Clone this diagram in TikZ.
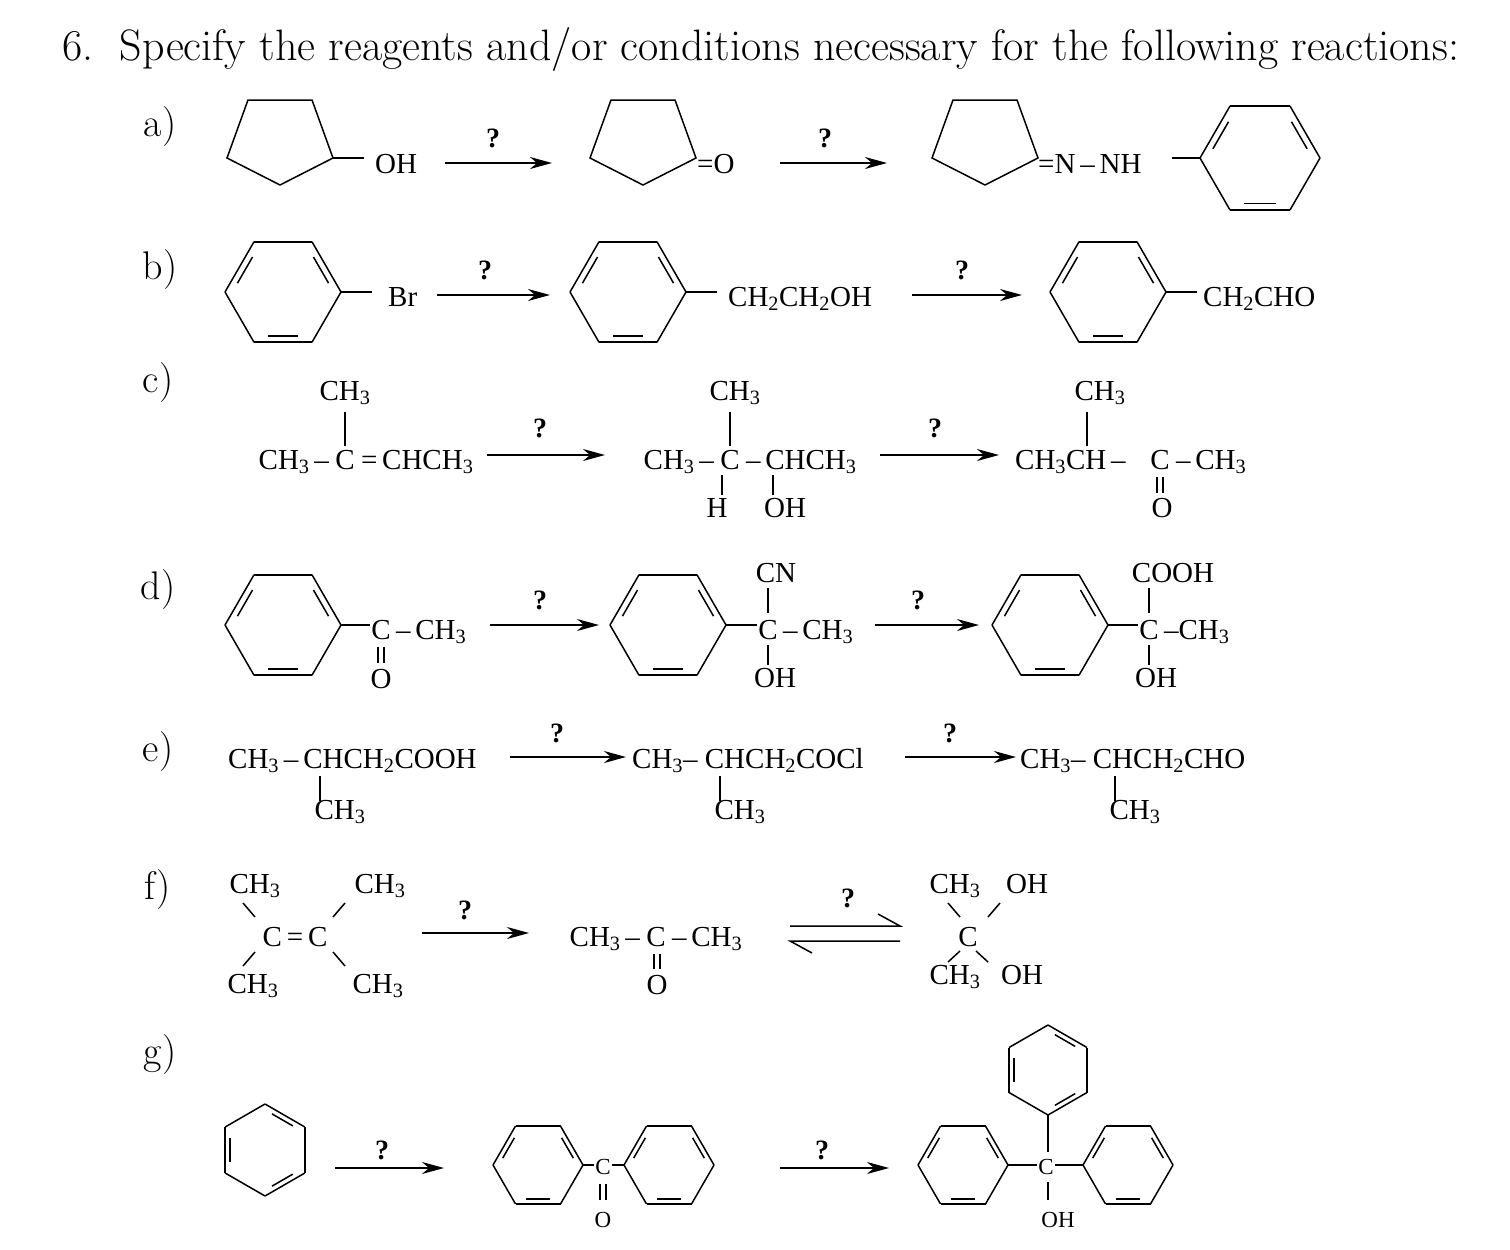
\documentclass[tikz,border=0pt]{standalone}
\usepackage{fontspec}
\usetikzlibrary{arrows.meta}
\newfontfamily\chemf{Liberation Serif}
\newcommand\subt[1]{\textsubscript{#1}}
\newcommand\dsh{\,–\,}
\tikzset{
 bond/.style={line width=1.5pt},
 rx/.style={line width=1.7pt,-{Stealth[length=22pt,width=12pt,inset=7pt]}},
 ch/.style={font=\chemf\fontsize{29}{31}\selectfont,inner sep=0pt,anchor=base},
 chw/.style={ch,anchor=base west},
 che/.style={ch,anchor=base east},
 qm/.style={font=\chemf\bfseries\fontsize{28}{30}\selectfont,inner sep=0pt},
 lab/.style={font=\fontsize{40}{42}\selectfont,inner sep=0pt},
}
% cx cy r rotation doubles
\newcommand\hexring[5]{%
 \foreach \i in {0,...,5}{\draw[bond] ({#1+#3*cos(60*\i+#4)},{#2+#3*sin(60*\i+#4)}) -- ({#1+#3*cos(60*\i+60+#4)},{#2+#3*sin(60*\i+60+#4)});}
 \foreach \i in {#5}{\draw[bond] ({#1+0.8*#3*cos(60*\i+#4+11)},{#2+0.8*#3*sin(60*\i+#4+11)}) -- ({#1+0.8*#3*cos(60*\i+49+#4)},{#2+0.8*#3*sin(60*\i+49+#4)});}
}
\newcommand\pent[2]{% offset x, y
 \draw[bond] (#1+248,#2+100) -- (#1+312,#2+100) -- (#1+333,#2+158) -- (#1+280,#2+185) -- (#1+227,#2+158) -- cycle;}
\begin{document}
\begin{tikzpicture}[x=1pt,y=-1pt]
\useasboundingbox (0,0) rectangle (1510,1250);
\node[font=\fontsize{44}{46}\selectfont,anchor=base west,inner sep=0] (title) at (62,60) {6.\ \ Specify the reagents and/or conditions necessary for the following reactions:};
\node[lab] (la) at (160,127) {a)};
\node[lab] (lb) at (160,270) {b)};
\node[lab] (lc) at (158,383) {c)};
\node[lab] (ld) at (158,590) {d)};
\node[lab] (le) at (158,752) {e)};
\node[lab] (lf) at (158,890) {f)};
\node[lab] (lg) at (160,1055) {g)};

% ---- a
\pent{0}{0}
\draw[bond] (333,158) -- (364,158);
\node[chw] (a1) at (375,173) {OH};
\coordinate (a1r) at (445,163); \coordinate (a2l) at (552,163);
\draw[rx] (a1r) -- (a2l); \node[qm] (qa1) at (493,138) {?};
\pent{363}{0}
\node[chw] (a2) at (697,173) {=O};
\coordinate (a2r) at (780,163); \coordinate (a3l) at (887,163);
\draw[rx] (a2r) -- (a3l); \node[qm] (qa2) at (825,138) {?};
\pent{705}{0}
\node[chw] (a3) at (1038,173) {=N\dsh NH};
\draw[bond] (1172,158) -- (1200,158);
\hexring{1260}{158}{60}{0}{1,3,5}

% ---- b
\hexring{283}{292}{58}{0}{1,3,5}
\draw[bond] (341,292) -- (372,292);
\node[chw] (b1) at (388,306) {Br};
\coordinate (b1r) at (437,295); \coordinate (b2l) at (550,295);
\draw[rx] (b1r) -- (b2l); \node[qm] (qb1) at (485,270) {?};
\hexring{628}{292}{58}{0}{1,3,5}
\draw[bond] (686,292) -- (717,292);
\node[chw] (b2) at (728,306) {CH\subt2CH\subt2OH};
\coordinate (b2r) at (912,295); \coordinate (b3l) at (1022,295);
\draw[rx] (b2r) -- (b3l); \node[qm] (qb2) at (962,270) {?};
\hexring{1108}{292}{58}{0}{1,3,5}
\draw[bond] (1166,292) -- (1197,292);
\node[chw] (b3) at (1203,306) {CH\subt2CHO};

% ---- c
\node[ch] (cC1) at (345,469) {C};
\node[che] at (334,469) {CH\subt3\dsh};
\node[chw] at (356,469) {\,=\,CHCH\subt3};
\node[ch] (cM1) at (345,400) {CH\subt3};
\draw[bond] (345,412) -- (345,446);
\coordinate (c1r) at (487,455); \coordinate (c2l) at (605,455);
\draw[rx] (c1r) -- (c2l); \node[qm] (qc1) at (540,428) {?};
\node[ch] (cC2) at (730,469) {C};
\node[che] at (719,469) {CH\subt3\dsh};
\node[chw] at (741,469) {\dsh CHCH\subt3};
\node[ch] (cM2) at (735,400) {CH\subt3};
\draw[bond] (730,412) -- (730,446);
\node[ch] (cH2) at (717,517) {H};
\draw[bond] (722,475) -- (722,495);
\node[ch] (cO2) at (785,517) {OH};
\draw[bond] (773,475) -- (773,495);
\coordinate (c2r) at (880,455); \coordinate (c3l) at (999,455);
\draw[rx] (c2r) -- (c3l); \node[qm] (qc2) at (935,428) {?};
\node[chw] (c3a) at (1015,469) {CH\subt3CH\dsh};
\node[ch] (cC3) at (1160,469) {C};
\node[chw] at (1171,469) {\dsh CH\subt3};
\node[ch] (cM3) at (1100,400) {CH\subt3};
\draw[bond] (1087,412) -- (1087,446);
\node[ch] (cO3) at (1162,517) {O};
\draw[bond] (1157,477) -- (1157,493); \draw[bond] (1163,477) -- (1163,493);

% ---- d
\hexring{283}{625}{58}{0}{1,3,5}
\draw[bond] (341,625) -- (370,625);
\node[ch] (dC1) at (381,639) {C};
\node[chw] at (391,639) {\dsh CH\subt3};
\node[ch] (dO1) at (381,688) {O};
\draw[bond] (378,647) -- (378,663); \draw[bond] (384,647) -- (384,663);
\coordinate (d1r) at (490,625); \coordinate (d2l) at (599,625);
\draw[rx] (d1r) -- (d2l); \node[qm] (qd1) at (540,600) {?};
\hexring{668}{625}{58}{0}{1,3,5}
\draw[bond] (726,625) -- (757,625);
\node[ch] (dC2) at (768,639) {C};
\node[chw] at (778,639) {\dsh CH\subt3};
\node[ch] (dN2) at (776,582) {CN};
\node[ch] (dO2) at (775,687) {OH};
\draw[bond] (768,588) -- (768,613); \draw[bond] (768,645) -- (768,665);
\coordinate (d2r) at (875,625); \coordinate (d3l) at (979,625);
\draw[rx] (d2r) -- (d3l); \node[qm] (qd2) at (918,600) {?};
\hexring{1050}{625}{58}{0}{1,3,5}
\draw[bond] (1108,625) -- (1138,625);
\node[ch] (dC3) at (1149,639) {C};
\node[chw] at (1159,639) {\,–CH\subt3};
\node[ch] (dN3) at (1173,582) {COOH};
\node[ch] (dO3) at (1156,687) {OH};
\draw[bond] (1149,588) -- (1149,613); \draw[bond] (1149,645) -- (1149,665);

% ---- e
\node[chw] (e1) at (228,768) {CH\subt3\dsh CHCH\subt2COOH};
\node[ch] (e1m) at (340,819) {CH\subt3};
\draw[bond] (320,776) -- (320,801);
\coordinate (e1r) at (510,757); \coordinate (e2l) at (626,757);
\draw[rx] (e1r) -- (e2l); \node[qm] (qe1) at (557,733) {?};
\node[chw] (e2) at (632,768) {CH\subt3– CHCH\subt2COCl};
\node[ch] (e2m) at (740,819) {CH\subt3};
\draw[bond] (720,776) -- (720,801);
\coordinate (e2r) at (905,757); \coordinate (e3l) at (1016,757);
\draw[rx] (e2r) -- (e3l); \node[qm] (qe2) at (950,733) {?};
\node[chw] (e3) at (1020,768) {CH\subt3– CHCH\subt2CHO};
\node[ch] (e3m) at (1135,819) {CH\subt3};
\draw[bond] (1115,776) -- (1115,801);

% ---- f
\node[ch] (f1) at (295,946) {C\,=\,C};
\node[ch] (f1a) at (255,893) {CH\subt3};
\node[ch] (f1b) at (380,893) {CH\subt3};
\node[ch] (f1c) at (253,993) {CH\subt3};
\node[ch] (f1d) at (378,993) {CH\subt3};
\draw[bond] (243,903) -- (255,917);
\draw[bond] (255,952) -- (243,966);
\draw[bond] (345,903) -- (333,917);
\draw[bond] (333,952) -- (345,966);
\coordinate (f1r) at (422,933); \coordinate (f2l) at (529,933);
\draw[rx] (f1r) -- (f2l); \node[qm] (qf1) at (465,910) {?};
\node[ch] (fC2) at (656,946) {C};
\node[che] at (645,946) {CH\subt3\dsh};
\node[chw] at (667,946) {\dsh CH\subt3};
\node[ch] (fO2) at (657,994) {O};
\draw[bond] (654,954) -- (654,969); \draw[bond] (660,954) -- (660,969);
\coordinate (fe1) at (790,926); \coordinate (fe2) at (900,926);
\coordinate (fe3) at (790,941); \coordinate (fe4) at (900,941);
\draw[bond] (fe1) -- (fe2) -- ++(-22,-12);
\draw[bond] (fe4) -- (fe3) -- ++(22,12);
\node[qm] (qf2) at (848,898) {?};
\node[ch] (fC3) at (968,946) {C};
\node[ch] (f3a) at (955,893) {CH\subt3};
\node[ch] (f3b) at (1027,893) {OH};
\node[ch] (f3c) at (955,984) {CH\subt3};
\node[ch] (f3d) at (1022,984) {OH};
\draw[bond] (948,903) -- (960,917);
\draw[bond] (1000,903) -- (988,917);
\draw[bond] (960,951) -- (948,962);
\draw[bond] (976,951) -- (988,962);

% ---- g
\hexring{265}{1150}{46}{30}{0,2,4}
\coordinate (g1r) at (335,1168); \coordinate (g2l) at (444,1168);
\draw[rx] (g1r) -- (g2l); \node[qm] (qg1) at (382,1150) {?};
\hexring{538}{1165}{45}{0}{1,3,5}
\draw[bond] (583,1165) -- (594,1165);
\node[ch,font=\chemf\fontsize{23}{25}\selectfont] (gC2) at (603,1174) {C};
\draw[bond] (612,1165) -- (624,1165);
\hexring{669}{1165}{45}{0}{1,3,5}
\node[ch,font=\chemf\fontsize{23}{25}\selectfont] (gO2) at (603,1227) {O};
\draw[bond] (600,1184) -- (600,1200); \draw[bond] (606,1184) -- (606,1200);
\coordinate (g2r) at (780,1168); \coordinate (g3l) at (889,1168);
\draw[rx] (g2r) -- (g3l); \node[qm] (qg2) at (822,1150) {?};
\hexring{963}{1165}{45}{0}{1,3,5}
\draw[bond] (1008,1165) -- (1037,1165);
\node[ch,font=\chemf\fontsize{23}{25}\selectfont] (gC3) at (1046,1174) {C};
\draw[bond] (1055,1165) -- (1083,1165);
\hexring{1128}{1165}{45}{0}{1,3,5}
\hexring{1048}{1070}{45}{30}{0,2,4}
\draw[bond] (1048,1115) -- (1048,1152);
\draw[bond] (1048,1182) -- (1048,1200);
\node[ch,font=\chemf\fontsize{23}{25}\selectfont] (gO3) at (1058,1227) {OH};
\end{tikzpicture}
\end{document}
